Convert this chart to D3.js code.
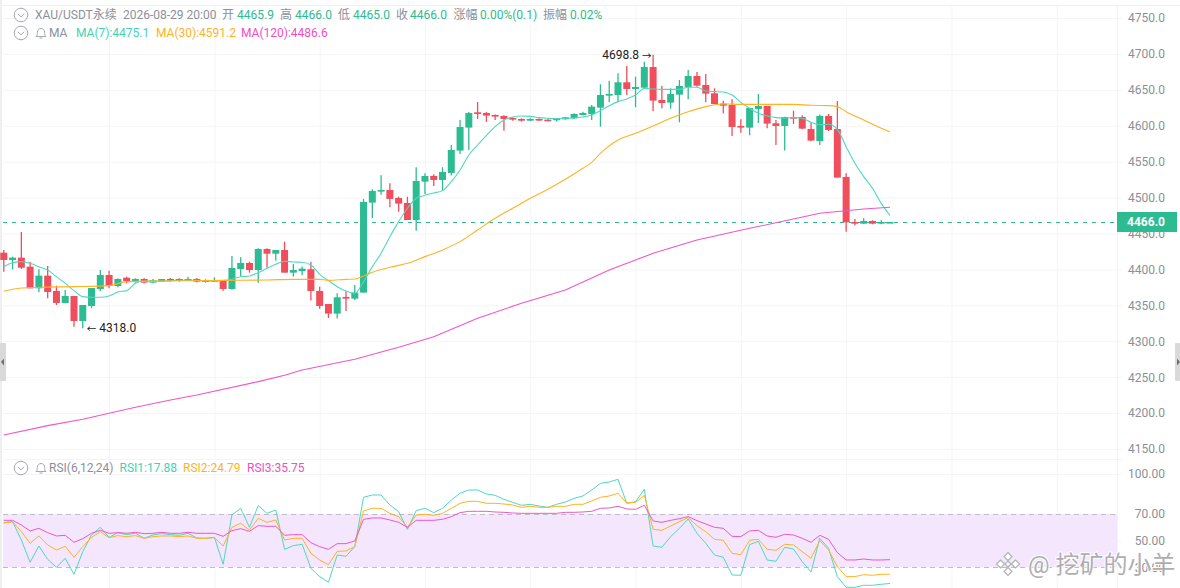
<!DOCTYPE html>
<html>
<head>
<meta charset="utf-8">
<script src="https://cdn.jsdelivr.net/npm/d3@7"></script>
<style>
  html, body { margin: 0; padding: 0; background: #fff; }
  svg { display: block; }
  text { font-family: Roboto, "Noto Sans CJK SC", sans-serif; }
</style>
</head>
<body>
<script>
// candles
const opens = [4423.3,4413.1,4416.4,4403.8,4373.7,4391.3,4370,4353.3,4363,4328.2,
  4349.1,4372.8,4392.2,4376.9,4388.5,4383.9,4386.7,4381.6,4383.4,4386.7,
  4386.7,4384.8,4386.7,4383,4383.4,4383.9,4372.8,4400.6,4409,4399.2,
  4428.4,4421.9,4427,4395.5,4397.8,4400.2,4370,4351.9,4338.5,4361.7,
  4359.3,4367.7,4493,4508.3,4510.6,4499.5,4492.5,4468.8,4522.2,4530.1,
  4524.5,4534.3,4565.4,4597.4,4618.7,4617.8,4615,4613.6,4610.8,4609.4,
  4607.1,4609.4,4608.5,4608,4609,4610.4,4615,4616.4,4625.2,4641.9,
  4642.8,4660.5,4651.2,4653,4681.8,4635.9,4632.2,4643.3,4654,4669.3,
  4656.8,4645.2,4630.8,4628.9,4599.7,4597.4,4623.4,4627.5,4603.4,4599.7,
  4612.2,4612.2,4595.5,4578.8,4613.6,4595.5,4528.7,4466,4463.7,4467.4,
  4463.7,4465.9];
const closes = [4413.1,4416.4,4402.4,4373.7,4391.3,4368.6,4353.3,4363,4328.2,4350.5,
  4374.1,4392.2,4376.9,4386.7,4383.9,4386.7,4381.6,4384.8,4386.7,4383.9,
  4383.9,4386.7,4383,4384.8,4385.3,4372.8,4402,4409,4399.2,4428.4,
  4421.9,4427,4395.5,4399.2,4401.1,4370,4349.1,4338.5,4361.2,4359.3,
  4367.7,4493.9,4509.2,4510.6,4498.1,4491.6,4468.8,4523.1,4530.1,4524.5,
  4535.7,4566.3,4598.3,4617.8,4616.4,4614.1,4612.7,4609.4,4608.5,4607.1,
  4609.4,4608,4607.1,4609.9,4611.8,4616.4,4617.8,4626.6,4642.8,4644.2,
  4660.5,4651.2,4654,4681.8,4635,4631.7,4644.2,4655.4,4669.3,4655.8,
  4644.7,4630.3,4628,4598.3,4597.4,4624.7,4627.5,4603,4599.7,4612.2,
  4609.9,4596,4579.3,4613.6,4594.1,4527.8,4465.6,4463.7,4467.4,4463.7,
  4466,4466];
const highs = [4427,4417.8,4452.1,4410.8,4400.1,4404.8,4377.4,4371.4,4363,4350.5,
  4374.1,4399.2,4398.3,4387.6,4389.9,4387.6,4387.6,4386.7,4386.7,4388.1,
  4387.6,4389.9,4388.1,4386.2,4389,4385.3,4418.7,4416.8,4410.8,4429.4,
  4429.4,4427,4438.6,4407.6,4403.9,4410.8,4376,4351.9,4366.8,4369.1,
  4378.4,4498.1,4511.5,4531,4519.9,4501.3,4501.3,4542.2,4533.8,4532.4,
  4542.2,4573.2,4608,4619.2,4633.1,4619.2,4615.5,4614.5,4611.8,4610.4,
  4610.4,4610.4,4609,4610.8,4612.2,4617.3,4619.6,4628.9,4657.7,4662.8,
  4673,4683.2,4668.4,4689.2,4698.8,4655.8,4652.1,4663.7,4677.6,4674.9,
  4672,4652.1,4634.9,4636.8,4609,4624.7,4644.2,4627.5,4608,4612.7,
  4621,4614.5,4604.3,4615.5,4616.4,4634.5,4533.8,4470.2,4471.2,4468.4,
  4468.4,4466];
const lows = [4396.9,4400.1,4400.6,4373.7,4368.1,4359.8,4350.5,4352.8,4320.3,4318,
  4345.8,4370,4373.7,4375.1,4380.6,4381.6,4380.6,4380.6,4382.5,4383,
  4383,4383.9,4382,4381.6,4382.5,4370.4,4371.8,4390.8,4395.5,4381.6,
  4402.4,4412.2,4395.5,4390,4391.8,4356.6,4345.4,4332.4,4331.5,4342.2,
  4357.5,4367.7,4471.6,4504.1,4486.5,4480.4,4468.8,4454,4505,4516.2,
  4509.7,4530.6,4560.7,4566.3,4609.4,4605.3,4608,4593.2,4607.1,4605.7,
  4606.6,4607.1,4606.6,4605.7,4608.5,4609.4,4614.1,4608,4598.8,4632.6,
  4632.6,4642.8,4625.7,4652.1,4620.1,4624.3,4623.8,4604.8,4636.8,4654.4,
  4632.6,4630.3,4616.9,4585.8,4590.4,4586.7,4603.9,4596.4,4573.2,4565.4,
  4602.5,4595,4578.3,4573.2,4592.7,4527.8,4452.6,4461,4463.3,4462.8,
  4462.8,4465];

// moving averages
const ma7 = [4403.8,4409.4,4410.8,4408.5,4403.8,4399.2,4389.9,4380.6,4370.4,4362.1,
  4361.2,4361.2,4363,4368.6,4370.4,4380.6,4383.9,4383.4,4383.4,4384.4,
  4384.8,4384.8,4384.8,4383.9,4383.9,4384.4,4386.2,4389.9,4390.8,4395.5,
  4401.5,4407.1,4411.3,4410.4,4409.9,4406.2,4393.2,4384.4,4376,4370,
  4366.8,4383,4403.9,4422.4,4445.6,4466.5,4485.1,4499,4503.2,4506.4,
  4509.7,4522.2,4538.4,4559.3,4573.2,4586.2,4598.8,4608,4612.2,4613.6,
  4613.1,4611.3,4610.4,4609.9,4610.4,4610.8,4612.2,4615,4621,4628,
  4633.6,4637.3,4642.8,4652.1,4651.2,4650.7,4650.7,4650.7,4653.5,4653.5,
  4648.4,4647.5,4647,4642.8,4632.6,4624.3,4617.3,4613.6,4611.3,4610.8,
  4611.3,4610.4,4604.8,4601.5,4602,4595.1,4570.9,4547.7,4529.2,4512.9,
  4492,4475.1];
const ma30Bars = [0,2,4,8,12,14,18,25,30,33,36,37,39,40,41,42,44,46,48,50,52,54,56,58,60,62,64,66,67,68,70,72,74,76,78,80,82,84,88,90,92,94,95,96,98,100,101];
const ma30 = [4369.5,4374.1,4375.1,4376,4377.4,4383,4383.9,4384.8,4385.3,4386.2,4386.2,4384.8,4386.2,4386.7,4390.9,4396,4403,4408.5,4417.8,4427.1,4438.7,4454.9,4471.2,4485.1,4499,4511.5,4525.4,4540.8,4549.1,4561.6,4580.2,4589.5,4599.7,4610.4,4619.6,4626.6,4630.3,4629.8,4629.8,4629.8,4628.5,4628,4626.6,4619.6,4608,4596.4,4591.2];
const ma120Bars = [0,5,9,15,19,22,29,32,34,40,45,49,54,59,64,69,74,79,85,90,93,98,101];
const ma120 = [4169.5,4182.5,4191.3,4208,4218.3,4225.2,4243.8,4252.6,4260,4274.9,4291.6,4306.4,4331.9,4352.8,4371.4,4399.2,4422.4,4441,4457.2,4470.2,4478.1,4484.1,4486.6];

// RSI
const rsi1 = [63.5,64.25,50.5,33.75,46,36,30,36.75,24.75,41.75,54.25,60,52.5,56,54.5,55.5,51.75,54.25,55.25,54.5,54,55.5,52,51.75,52.5,32.25,69.25,74.25,60,76.25,70.5,73,43.5,46.25,47.25,29.25,23,18.75,39.25,38.25,45.5,82.5,84.25,84.25,76.75,71.75,
  58.5,72.5,74.25,71,74.25,80.5,85.5,88,88,85,84,81,78.75,76.5,77.25,76,75,77.25,79,81.75,83.5,88,93,94,96,78,79.25,88.5,46,45,53,59.25,66.25,55.5,48,39.25,37.5,24.25,24,47,49.5,35.5,34.5,45,43.75,34.25,
  26.5,51.75,44.25,23,15,15,16.5,16.5,17.25,17.88];
const rsi2 = [63.25,64.25,56.75,48,53.5,46.75,43,45.75,37.5,45.5,52.5,56.75,52.25,53.75,53,53.75,51.75,53,53.5,53.5,53,53.5,51.75,51.75,52.25,46,60,63,58,66.75,63.75,65.5,50.5,51.75,51.75,40.5,35.5,32,42,42.25,45.5,72.25,74.25,74.25,70.5,68,
  60,69.25,69.75,69,70.5,74.25,78,79.5,79.5,78,78,77.5,76.75,75,75.75,75,75,75.75,75.75,77.25,77.25,79.75,82.5,83.5,85.5,78.25,78.75,84,58.5,57.75,61,64.25,67.25,61.25,56.75,51,50.25,40.5,39.5,50.25,51,43.5,42.75,47.25,46.75,41.75,
  36.75,50,43,30.5,23,23,24.5,24,24.75,24.79];
const rsi3 = [65.25,65.25,61.75,57.25,59.25,56,53.5,54,48.75,51.5,55.5,57.75,55.5,56,55.5,56.25,55.25,55.5,56.25,55.5,55.5,56.25,55.5,55.5,55.5,53.25,57.5,59,57,61.25,60.75,60.75,54,54.5,54.5,48.5,45.5,43.5,47.75,47.75,49.75,66,67,67,65.5,63.75,
  60,65.25,65.25,65.25,66,68,71,72,72,72,71.5,71.25,70.75,70.5,70.5,70.5,70.5,70.5,71.25,71.25,71.5,72,74.25,74.5,75.75,73.75,73.5,76.5,64.75,63.75,65.25,66.5,68,65,62.5,60,59.25,53.25,53,57.25,57.75,53.5,52.5,54.75,54.25,51.75,
  48.75,54,51,41,35.5,35.5,36.25,35.5,35.5,35.75];

// axis ticks
const priceTicks = [4750,4700,4650,4600,4550,4500,4450,4400,4350,4300,4250,4200,4150];
const rsiTicks = [100,70,50,30];
const gridBars = [12,24,36,48,60,72,84,96,108,120];
const lastPrice = 4466.0;

const W = 1180, H = 588, axisX = 1117;
const green = "#2dbb91", red = "#f04e5c";
const tealLine = "#4fd8bf", orangeLine = "#ffb31f", pinkLine = "#f256c4";
const greyText = "#8b909a";

const x = d3.scaleLinear().domain([0, 101]).range([3.8, 890]);
const y = d3.scaleLinear().domain([4750, 4150]).range([18, 449]);
const yRsi = d3.scaleLinear().domain([100, 30]).range([474, 567.3]);

const svg = d3.select("body").append("svg").attr("width", W).attr("height", H);

// left edge strip and top rule
svg.append("rect").attr("width", 2).attr("height", H).attr("fill", "#efefef");
svg.append("line").attr("x1", 0).attr("x2", W).attr("y1", 5.5).attr("y2", 5.5).attr("stroke", "#f1f1f1");

// grid, drawn with axes so they follow the scales
function gridLayer(axis, tx, ty) {
  const g = svg.append("g").attr("transform", `translate(${tx},${ty})`).call(axis);
  g.select(".domain").remove();
  g.selectAll("text").remove();
  g.selectAll("line").attr("stroke", "#f5f5f6");
  return g;
}
gridLayer(d3.axisBottom(x).tickValues(gridBars).tickSize(H - 5), 0, 5);
gridLayer(d3.axisRight(y).tickValues(priceTicks).tickSize(axisX + 5 - 3), 3, 0);
gridLayer(d3.axisRight(yRsi).tickValues([100, 50]).tickSize(axisX + 5 - 3), 3, 0);
svg.append("line").attr("x1", 3).attr("x2", axisX + 5).attr("y1", 459.5).attr("y2", 459.5).attr("stroke", "#f5f5f6");
svg.append("line").attr("x1", axisX + 0.5).attr("x2", axisX + 0.5).attr("y1", 5).attr("y2", H).attr("stroke", "#f3f3f4");

// right hand axes
function labelAxis(scale, ticks, fmt) {
  const g = svg.append("g").attr("transform", `translate(${axisX},0)`)
    .call(d3.axisRight(scale).tickValues(ticks).tickSize(0).tickFormat(fmt));
  g.select(".domain").remove();
  g.selectAll("text").attr("x", 48).attr("text-anchor", "end")
    .style("font-family", "Roboto, sans-serif").style("font-size", "12px").attr("fill", greyText);
  return g;
}
labelAxis(y, priceTicks, d3.format(".1f"));
labelAxis(yRsi, rsiTicks, d3.format(".2f"));

// RSI band
svg.append("rect").attr("x", 3).attr("width", axisX - 3)
  .attr("y", yRsi(70)).attr("height", yRsi(30) - yRsi(70)).attr("fill", "#f4e6fd");
[70, 30].forEach(v => {
  const yv = Math.round(yRsi(v)) + 0.5;
  svg.append("line").attr("x1", 3).attr("x2", axisX).attr("y1", yv).attr("y2", yv)
    .attr("stroke", "#bdbdc2").attr("stroke-dasharray", "5,4");
});

// last price line
const lastY = Math.round(y(lastPrice)) + 0.5;
svg.append("line").attr("x1", 3).attr("x2", axisX).attr("y1", lastY).attr("y2", lastY)
  .attr("stroke", green).attr("stroke-dasharray", "4,5");

// candles
const bars = d3.range(opens.length);
const barColor = i => closes[i] >= opens[i] ? green : red;
svg.append("g").selectAll("line").data(bars).join("line")
  .attr("x1", i => x(i)).attr("x2", i => x(i))
  .attr("y1", i => y(highs[i])).attr("y2", i => y(lows[i]))
  .attr("stroke", barColor).attr("stroke-width", 1.3);
svg.append("g").selectAll("rect").data(bars).join("rect")
  .attr("x", i => x(i) - 3.5).attr("width", 7)
  .attr("y", i => y(Math.max(opens[i], closes[i])))
  .attr("height", i => Math.max(1.6, Math.abs(y(opens[i]) - y(closes[i]))))
  .attr("fill", barColor);

// MA lines
const smooth = d3.line().curve(d3.curveMonotoneX);
function drawLine(xs, vals, scale, color, gen, width) {
  svg.append("path")
    .attr("d", gen(vals.map((v, k) => [x(xs[k]), scale(v)])))
    .attr("fill", "none").attr("stroke", color).attr("stroke-width", width);
}
drawLine(bars, ma7, y, tealLine, smooth, 1.1);
drawLine(ma30Bars, ma30, y, orangeLine, smooth, 1.1);
drawLine(ma120Bars, ma120, y, pinkLine, d3.line(), 1.1);

// RSI lines
const straight = d3.line();
drawLine(bars, rsi1, yRsi, tealLine, straight, 1);
drawLine(bars, rsi2, yRsi, orangeLine, straight, 1);
drawLine(bars, rsi3, yRsi, pinkLine, straight, 1);

// high and low markers, the arrows are a size smaller than the numbers
const hiBar = d3.greatestIndex(highs), loBar = d3.leastIndex(lows);
const hiLabel = svg.append("text").attr("x", x(hiBar) - 1.5).attr("y", y(highs[hiBar]))
  .attr("dy", "0.33em").attr("text-anchor", "end").attr("font-size", 12).attr("fill", "#222");
hiLabel.append("tspan").text(highs[hiBar].toFixed(1) + " ");
hiLabel.append("tspan").attr("font-size", 9.5).text("→");
const loLabel = svg.append("text").attr("x", x(loBar) + 4).attr("y", y(lows[loBar]))
  .attr("dy", "0.33em").attr("font-size", 12).attr("fill", "#222");
loLabel.append("tspan").attr("font-size", 9.5).text("←");
loLabel.append("tspan").text(" " + lows[loBar].toFixed(1));

// last price tag
svg.append("rect").attr("x", axisX).attr("y", y(lastPrice) - 10).attr("width", 60).attr("height", 20).attr("fill", green);
svg.append("text").attr("x", axisX + 48).attr("y", y(lastPrice)).attr("dy", "0.35em")
  .attr("text-anchor", "end").attr("font-size", 12).attr("font-weight", 700).attr("fill", "#fff")
  .text(lastPrice.toFixed(1));

// legend rows
const headerRow = [
  [35, "XAU/USDT永续", greyText], [123, "2026-08-29 20:00", greyText],
  [222, "开", greyText], [237, "4465.9", green], [280, "高", greyText], [295, "4466.0", green],
  [338, "低", greyText], [353, "4465.0", green], [396, "收", greyText], [410, "4466.0", green],
  [453.5, "涨幅", greyText], [480, "0.00%(0.1)", green], [543, "振幅", greyText], [570, "0.02%", green]
];
const maRow = [[49, "MA", greyText], [76, "MA(7):4475.1", "#3fd3b6"], [156, "MA(30):4591.2", "#ffb31f"], [241, "MA(120):4486.6", "#f04fc0"]];
const rsiRow = [[49, "RSI(6,12,24)", greyText], [119.5, "RSI1:17.88", "#3fd3b6"], [183, "RSI2:24.79", "#ffb31f"], [247, "RSI3:35.75", "#f04fc0"]];
function textRow(row, yPos) {
  svg.append("g").selectAll("text").data(row).join("text")
    .attr("x", d => d[0]).attr("y", yPos).attr("dy", "0.35em")
    .attr("font-size", 12).attr("fill", d => d[2]).text(d => d[1]);
}
textRow(headerRow, 15);
textRow(maRow, 33);
textRow(rsiRow, 468);

// collapse icons and bells
function chevronIcon(cy) {
  const g = svg.append("g").attr("transform", `translate(21,${cy})`)
    .attr("fill", "none").attr("stroke", "#a4a8b0").attr("stroke-width", 1);
  g.append("circle").attr("r", 6.8);
  g.append("path").attr("d", "M-3.2,-1.2L0,1.8L3.2,-1.2");
}
function bellIcon(cy) {
  svg.append("path").attr("transform", `translate(41,${cy})`)
    .attr("fill", "none").attr("stroke", "#a4a8b0").attr("stroke-width", 1)
    .attr("d", "M-5,3.5C-3.5,2.5 -3.7,1 -3.7,-0.5C-3.7,-3 -2,-4.5 0,-4.5C2,-4.5 3.7,-3 3.7,-0.5C3.7,1 3.5,2.5 5,3.5ZM-1.5,5L1.5,5");
}
[15, 33, 468].forEach(chevronIcon);
[33, 468].forEach(bellIcon);

// side handles
svg.append("rect").attr("x", 0).attr("y", 343).attr("width", 6).attr("height", 38).attr("rx", 1).attr("fill", "#d9d9d9");
svg.append("path").attr("d", "M1,362L4,358.5L4,365.5Z").attr("fill", "#6f6f6f");
svg.append("rect").attr("x", 1175).attr("y", 343).attr("width", 5).attr("height", 38).attr("rx", 1).attr("fill", "#d9d9d9");
svg.append("path").attr("d", "M1180,362L1177,358.5L1177,365.5Z").attr("fill", "#6f6f6f");

// watermark
const mark = svg.append("g").attr("transform", "translate(1008,564)");
[[0, -7.5], [-7.5, 0], [7.5, 0], [0, 7.5], [0, 0]].forEach(([dx, dy]) => {
  const s = (dx === 0 && dy === 0) ? 3 : 4;
  mark.append("path")
    .attr("d", `M${dx},${dy - s}L${dx + s},${dy}L${dx},${dy + s}L${dx - s},${dy}Z`)
    .attr("fill", "#fff").attr("stroke", "#b0b0b0").attr("stroke-width", 1.1);
});
svg.append("text").attr("x", 1028).attr("y", 564).attr("dy", "0.36em")
  .attr("font-size", 24).attr("fill", "#a9a9ac").attr("stroke", "#fff").attr("stroke-width", 2.2)
  .attr("paint-order", "stroke").attr("opacity", 0.92).text("@ 挖矿的小羊");
</script>
</body>
</html>
